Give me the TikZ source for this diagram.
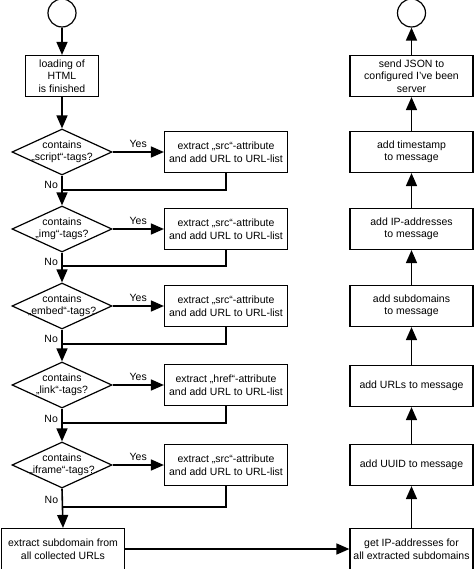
\documentclass[tikz,border=0pt]{standalone}
\usepackage{fontspec}
\setmainfont{Liberation Sans}
\usetikzlibrary{shapes.geometric,arrows.meta}

\begin{document}
\begin{tikzpicture}[x=1pt,y=-1pt,
  font=\fontsize{10.5}{12.5}\selectfont,
  box/.style={draw,line width=1.2pt,align=center,minimum width=123pt,minimum height=41pt,inner sep=1pt},
  ask/.style={draw,shape=diamond,line width=1.2pt,minimum width=100pt,minimum height=46pt,inner sep=0pt,aspect=2},
  ends/.style={draw,circle,line width=1.2pt,minimum size=28pt,inner sep=0pt},
  flow/.style={line width=1.6pt,-{Triangle[length=13pt,width=11pt]}},
  back/.style={line width=1.6pt}]
  \useasboundingbox (0,0) rectangle (474,569);

  % left column
  \node[ends] (start) at (62,13) {};
  \node[box,minimum width=73pt] (load) at (62,76) {loading of\\HTML\\is finished};
  \node[ask,label={[align=center]center:{contains\\„script“-tags?}}] (ask1) at (62,152) {};
  \node[box] (src1) at (226,152) {extract „src“-attribute\\and add URL to URL-list};
  \node[ask,label={[align=center]center:{contains\\„img“-tags?}}] (ask2) at (62,229) {};
  \node[box] (src2) at (226,229) {extract „src“-attribute\\and add URL to URL-list};
  \node[ask,label={[align=center]center:{contains\\„embed“-tags?}}] (ask3) at (62,306) {};
  \node[box] (src3) at (226,306) {extract „src“-attribute\\and add URL to URL-list};
  \node[ask,label={[align=center]center:{contains\\„link“-tags?}}] (ask4) at (62,385) {};
  \node[box] (href4) at (226,385) {extract „href“-attribute\\and add URL to URL-list};
  \node[ask,label={[align=center]center:{contains\\„iframe“-tags?}}] (ask5) at (62,465) {};
  \node[box] (src5) at (226,465) {extract „src“-attribute\\and add URL to URL-list};
  \node[box] (subdom) at (63,549) {extract subdomain from\\all collected URLs};
  \coordinate (join1) at (62,190);
  \coordinate (join2) at (62,266);
  \coordinate (join3) at (62,344);
  \coordinate (join4) at (62,423);
  \coordinate (join5) at (62,507);

  % right column
  \node[box] (getip) at (411.5,549) {get IP-addresses for\\all extracted subdomains};
  \node[box] (uuid) at (411.5,465) {add UUID to message};
  \node[box] (urls) at (411.5,386) {add URLs to message};
  \node[box] (subs) at (411.5,306) {add subdomains\\to message};
  \node[box] (ips) at (411.5,229) {add IP-addresses\\to message};
  \node[box] (stamp) at (411.5,152) {add timestamp\\to message};
  \node[box] (json) at (411.5,76) {send JSON to\\configured I've been\\server};
  \node[ends] (stop) at (411.5,13) {};

  \draw[flow] (start) -- (load);
  \draw[flow] (load) -- (ask1);
  \draw[flow] (ask1.east) -- node[above] {Yes} (src1.west);
  \draw[flow] (ask2.east) -- node[above] {Yes} (src2.west);
  \draw[flow] (ask3.east) -- node[above] {Yes} (src3.west);
  \draw[flow] (ask4.east) -- node[above] {Yes} (href4.west);
  \draw[flow] (ask5.east) -- node[above] {Yes} (src5.west);
  \draw[flow] (ask1.south) -- node[pos=0.3,left] {No} (ask2.north);
  \draw[flow] (ask2.south) -- node[pos=0.3,left] {No} (ask3.north);
  \draw[flow] (ask3.south) -- node[pos=0.3,left] {No} (ask4.north);
  \draw[flow] (ask4.south) -- node[pos=0.3,left] {No} (ask5.north);
  \draw[flow] (ask5.south) -- node[pos=0.3,left] {No} (subdom.north);
  \draw[back] (src1.south) |- (join1);
  \draw[back] (src2.south) |- (join2);
  \draw[back] (src3.south) |- (join3);
  \draw[back] (href4.south) |- (join4);
  \draw[back] (src5.south) |- (join5);
  \draw[flow] (subdom.east) -- (getip.west);
  \draw[flow] (getip) -- (uuid);
  \draw[flow] (uuid) -- (urls);
  \draw[flow] (urls) -- (subs);
  \draw[flow] (subs) -- (ips);
  \draw[flow] (ips) -- (stamp);
  \draw[flow] (stamp) -- (json);
  \draw[flow] (json) -- (stop);
\end{tikzpicture}
\end{document}
